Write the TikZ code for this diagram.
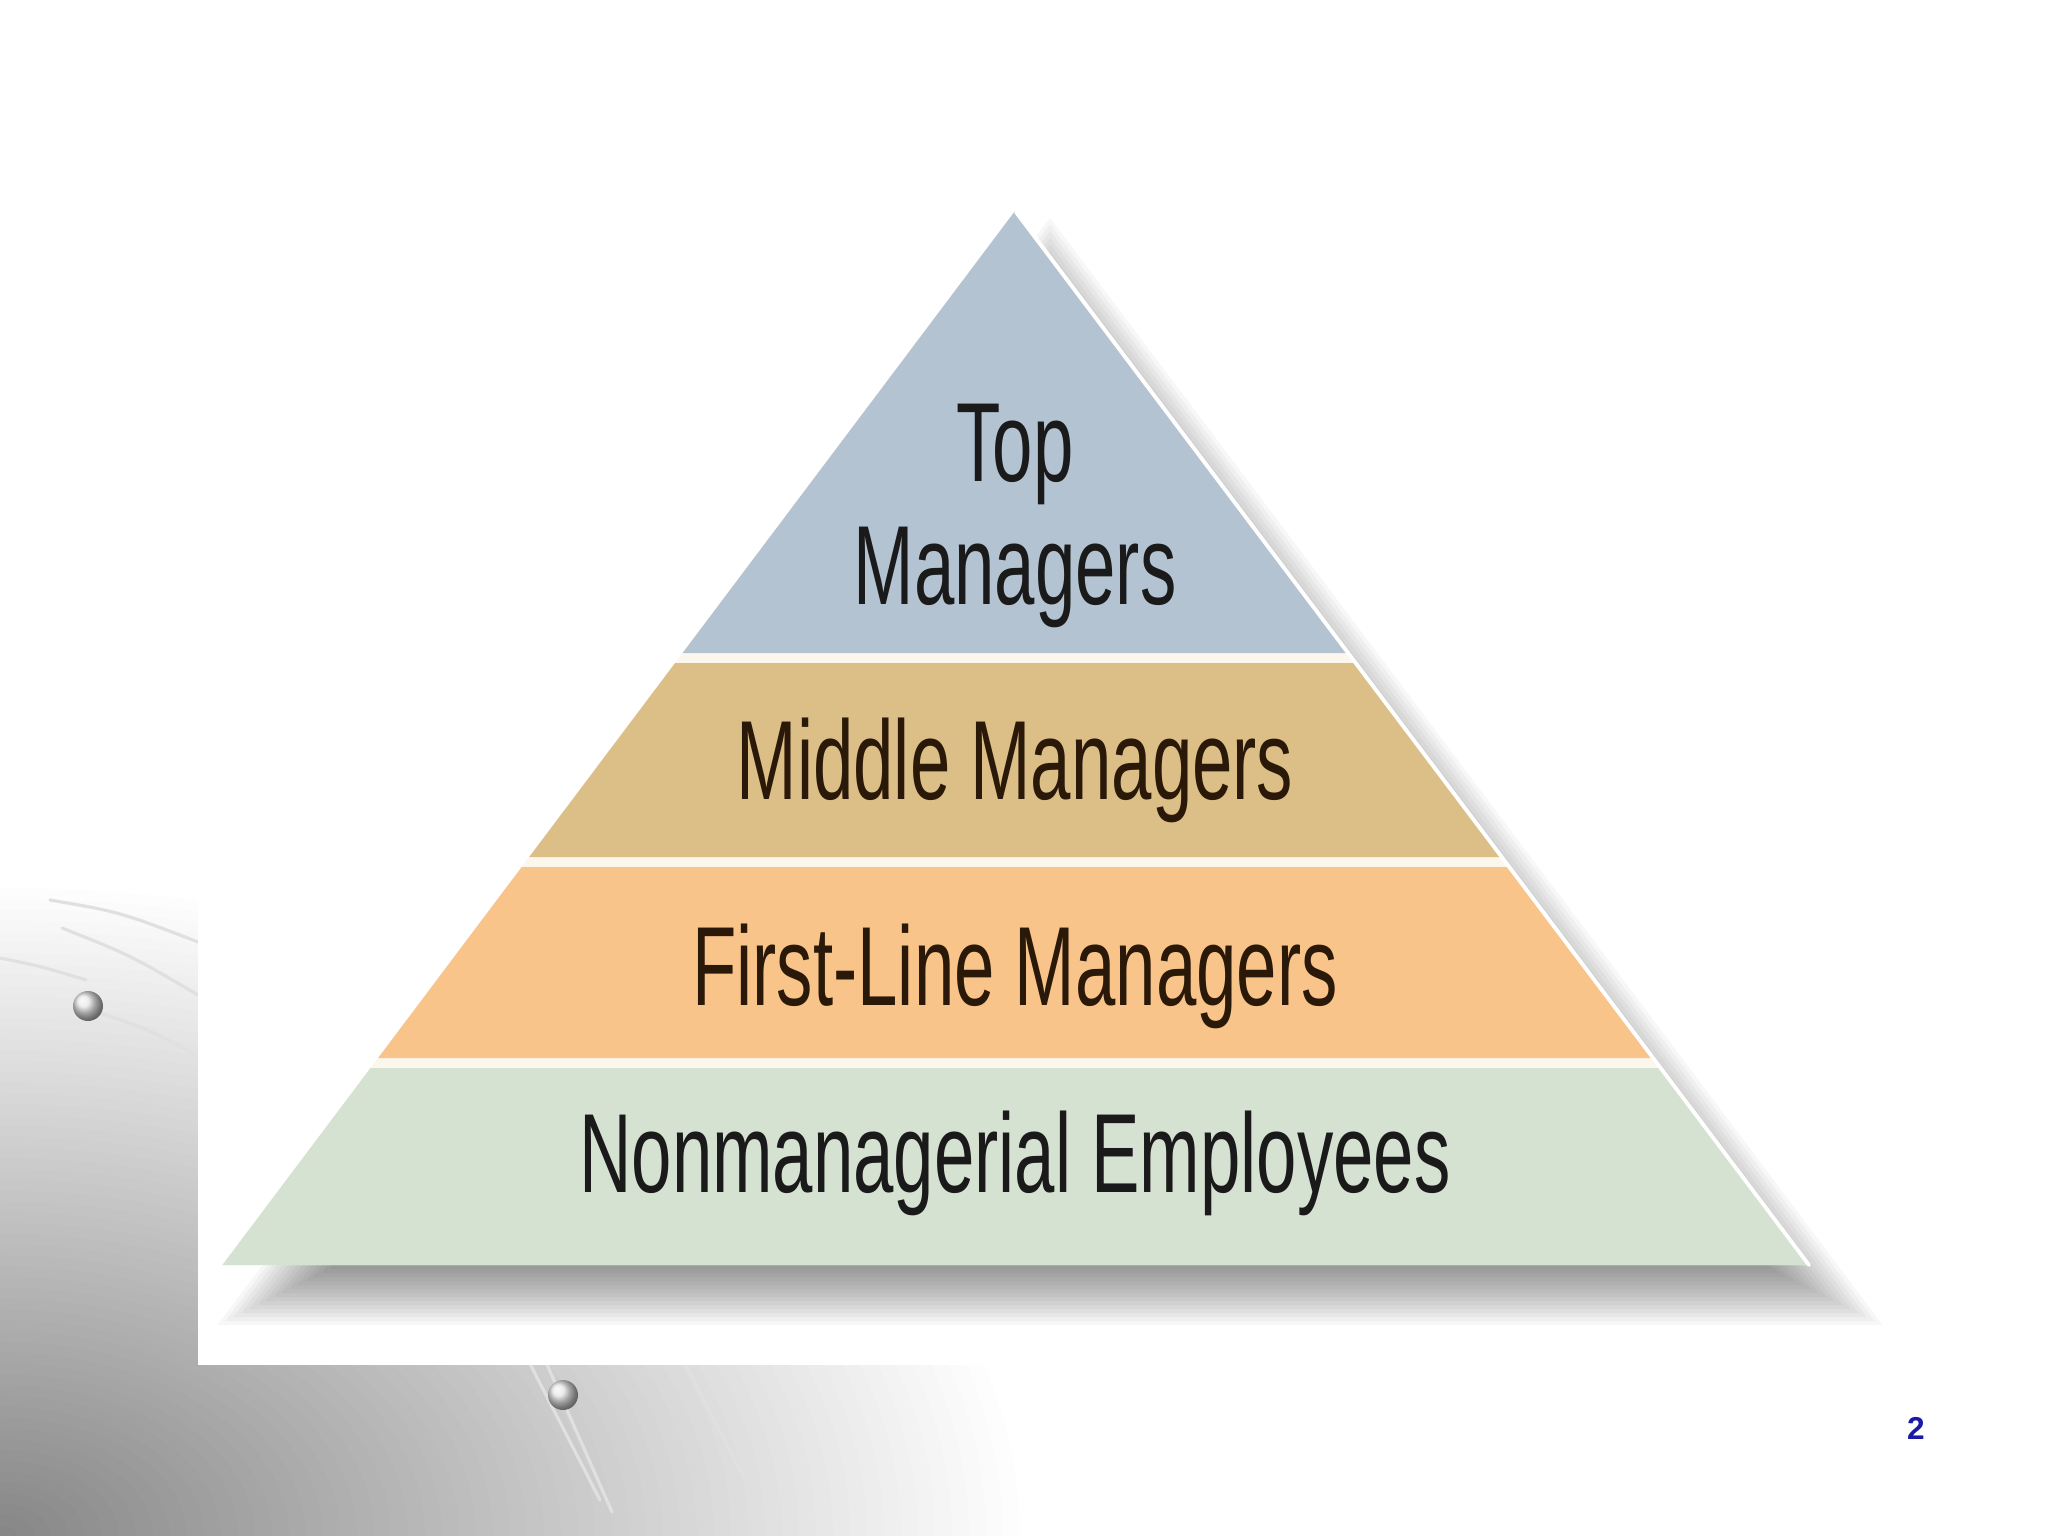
\documentclass[tikz,border=0pt]{standalone}
\usepackage{fontspec}
\setmainfont{Liberation Sans}
\newfontfamily\condfont[FakeStretch=0.645]{Liberation Sans}
\definecolor{topc}{HTML}{B3C3D1}
\definecolor{midc}{HTML}{DCBE87}
\definecolor{firstc}{HTML}{F8C48A}
\definecolor{basec}{HTML}{D5E1D1}
\definecolor{gapc}{HTML}{FCF7EC}
\definecolor{numblue}{HTML}{1A1AA6}
\definecolor{txtc}{HTML}{1A1A1A}
\definecolor{midtxt}{HTML}{2A1808}
\begin{document}
\begin{tikzpicture}[x=0.01cm,y=-0.01cm,
  lbl/.style={inner sep=0pt, anchor=base, text=txtc, font=\condfont\fontsize{32}{38}\selectfont},
  decoline/.style={line width=0.9pt, color=black!12, line cap=round},
  decolight/.style={line width=0.9pt, color=white!88!black, line cap=round},
  sphere/.style={ball color=black!10}]
\useasboundingbox (0,0) rectangle (2048,1536);
\fill[white] (0,0) rectangle (2048,1536);
% slide background: grey glow in the lower left corner
\begin{scope}
  \clip (0,0) rectangle (2048,1536);
  \foreach \k in {1,...,60} {
    \pgfmathsetmacro\rx{17*\k}
    \pgfmathsetmacro\ry{10.8*\k}
    \fill[black, opacity=0.0075] (0,1536) ellipse [x radius=\rx, y radius=\ry];
  }
\end{scope}
% decorative template lines and spheres
\draw[decoline] (50,900) .. controls (120,912) .. (198,942);
\draw[decoline] (0,958) .. controls (40,966) .. (86,980);
\draw[decoline] (62,928) .. controls (130,955) .. (198,995);
\draw[decolight] (100,1013) .. controls (150,1030) .. (198,1056);
\shade[sphere] (88,1006) circle (15);
\draw[decolight] (528,1360) -- (600,1500);
\draw[decolight] (545,1360) -- (612,1512);
\draw[decolight] (683,1360) -- (745,1480);
\shade[sphere] (563,1395) circle (15);
% pasted image area
\fill[white] (198,0) rectangle (2048,1365);
% soft shadow of the pyramid (nested triangles about the incentre)
\foreach \o in {-20,-16,...,36} {
  \pgfmathsetmacro\sc{(395.7-(\o))/395.7}
  \fill[black, opacity=0.033, shift={(1050,909.3)}, scale=\sc]
    (0,-658.3) -- (792.6,395.7) -- (-792.6,395.7) -- cycle;
}
% pyramid
\fill[gapc] (1015,211) -- (1807.6,1265) -- (222.4,1265) -- cycle;
\fill[topc] (1015,211) -- (1347.4,653) -- (682.6,653) -- cycle;
\fill[midc] (675.1,663) -- (1354.9,663) -- (1500.8,857) -- (529.2,857) -- cycle;
\fill[firstc] (521.7,867) -- (1508.3,867) -- (1651.9,1058) -- (378.1,1058) -- cycle;
\fill[basec] (370.5,1068) -- (1659.5,1068) -- (1807.6,1265) -- (222.4,1265) -- cycle;
\draw[white, line width=1.1pt, line cap=round] (1016,212) -- (1809,1265);
% labels
\node[lbl] (ttop) at (1015,481) {Top};
\node[lbl] (tman) at (1015,604) {Managers};
\node[lbl, text=midtxt] (tmid) at (1015,799) {Middle Managers};
\node[lbl, text=midtxt] (tfirst) at (1015,1005) {First-Line Managers};
\node[lbl] (tnon) at (1015,1192) {Nonmanagerial Employees};
% page number
\node[inner sep=0pt, text=numblue, font=\bfseries\fontsize{9}{10}\selectfont] (pnum) at (1916,1428) {2};
\end{tikzpicture}
\end{document}
